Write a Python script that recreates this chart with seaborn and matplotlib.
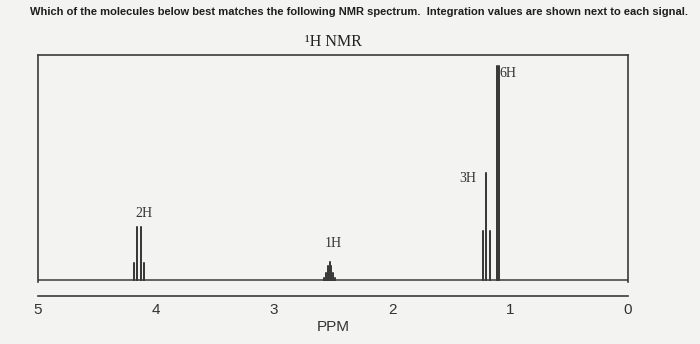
import pandas as pd
import matplotlib.pyplot as plt
import seaborn as sns
import numpy as np

sns.set_style("white")
plt.rcParams['font.family'] = ['Liberation Sans', 'DejaVu Sans']

# peak sticks (ppm, height above baseline)
quartet_ppm = [4.19, 4.16, 4.13, 4.10]
quartet_h = [17, 53, 53, 17]
septet_ppm = [2.575, 2.56, 2.545, 2.53, 2.515, 2.50, 2.485]
septet_h = [2, 7, 14, 18, 14, 7, 2]
triplet_ppm = [1.23, 1.20, 1.17]
triplet_h = [49, 107, 49]
doublet_ppm = [1.11, 1.09]
doublet_h = [214, 214]

labels = ['2H', '1H', '3H', '6H']
label_ppm = [4.10, 2.50, 1.36, 1.02]
label_y = [60, 30, 95, 200]

ppm_all = quartet_ppm + septet_ppm + triplet_ppm + doublet_ppm
h_all = quartet_h + septet_h + triplet_h + doublet_h
order = np.argsort(ppm_all)[::-1]

xs, ys = [5.0], [0]
for i in order:
    xs += [ppm_all[i], ppm_all[i], ppm_all[i]]
    ys += [0, h_all[i], 0]
xs.append(0.0)
ys.append(0)
spec = pd.DataFrame({'ppm': xs, 'intensity': ys})

fig = plt.figure(figsize=(7, 3.44), dpi=100, facecolor='#f3f3f1')
ax = fig.add_axes([0.0543, 0.180, 0.843, 0.660])
ax.set_facecolor('#f3f3f1')

line_col = '#3a3a3a'
sns.lineplot(data=spec, x='ppm', y='intensity', sort=False, estimator=None,
             color=line_col, linewidth=1.1, ax=ax)

ax.set_xlim(5, 0)
ax.set_ylim(-2, 225)
ax.set_yticks([])
ax.set_xticks([5, 4, 3, 2, 1, 0])
ax.set_xticks(np.arange(0.5, 5, 1.0), minor=True)
ax.tick_params(axis='x', which='both', direction='out', length=4, width=1,
               color=line_col, labelsize=11, pad=1, labelcolor='#333333')
for s in ['top', 'left', 'right', 'bottom']:
    ax.spines[s].set_color(line_col)
    ax.spines[s].set_linewidth(1.2)
ax.spines['bottom'].set_position(('outward', 10))
ax.set_xlabel('PPM', fontsize=11, color='#333333', labelpad=2)
ax.set_ylabel('')

for lab, p, y in zip(labels, label_ppm, label_y):
    ax.text(p, y, lab, family=['Liberation Serif'], fontsize=10,
            color='#333333', ha='center', va='bottom')

fig.text(0.476, 0.855, '¹H NMR', family=['Liberation Serif'], fontsize=11.5,
         ha='center', va='bottom', color='#222222')
fig.text(0.043, 0.965,
         'Which of the molecules below best matches the following NMR spectrum.  '
         'Integration values are shown next to each signal.',
         fontsize=8.0, weight='bold', ha='left', va='center', color='#1e1e1e')

plt.savefig('out.png', dpi=100, facecolor=fig.get_facecolor())
plt.close()
